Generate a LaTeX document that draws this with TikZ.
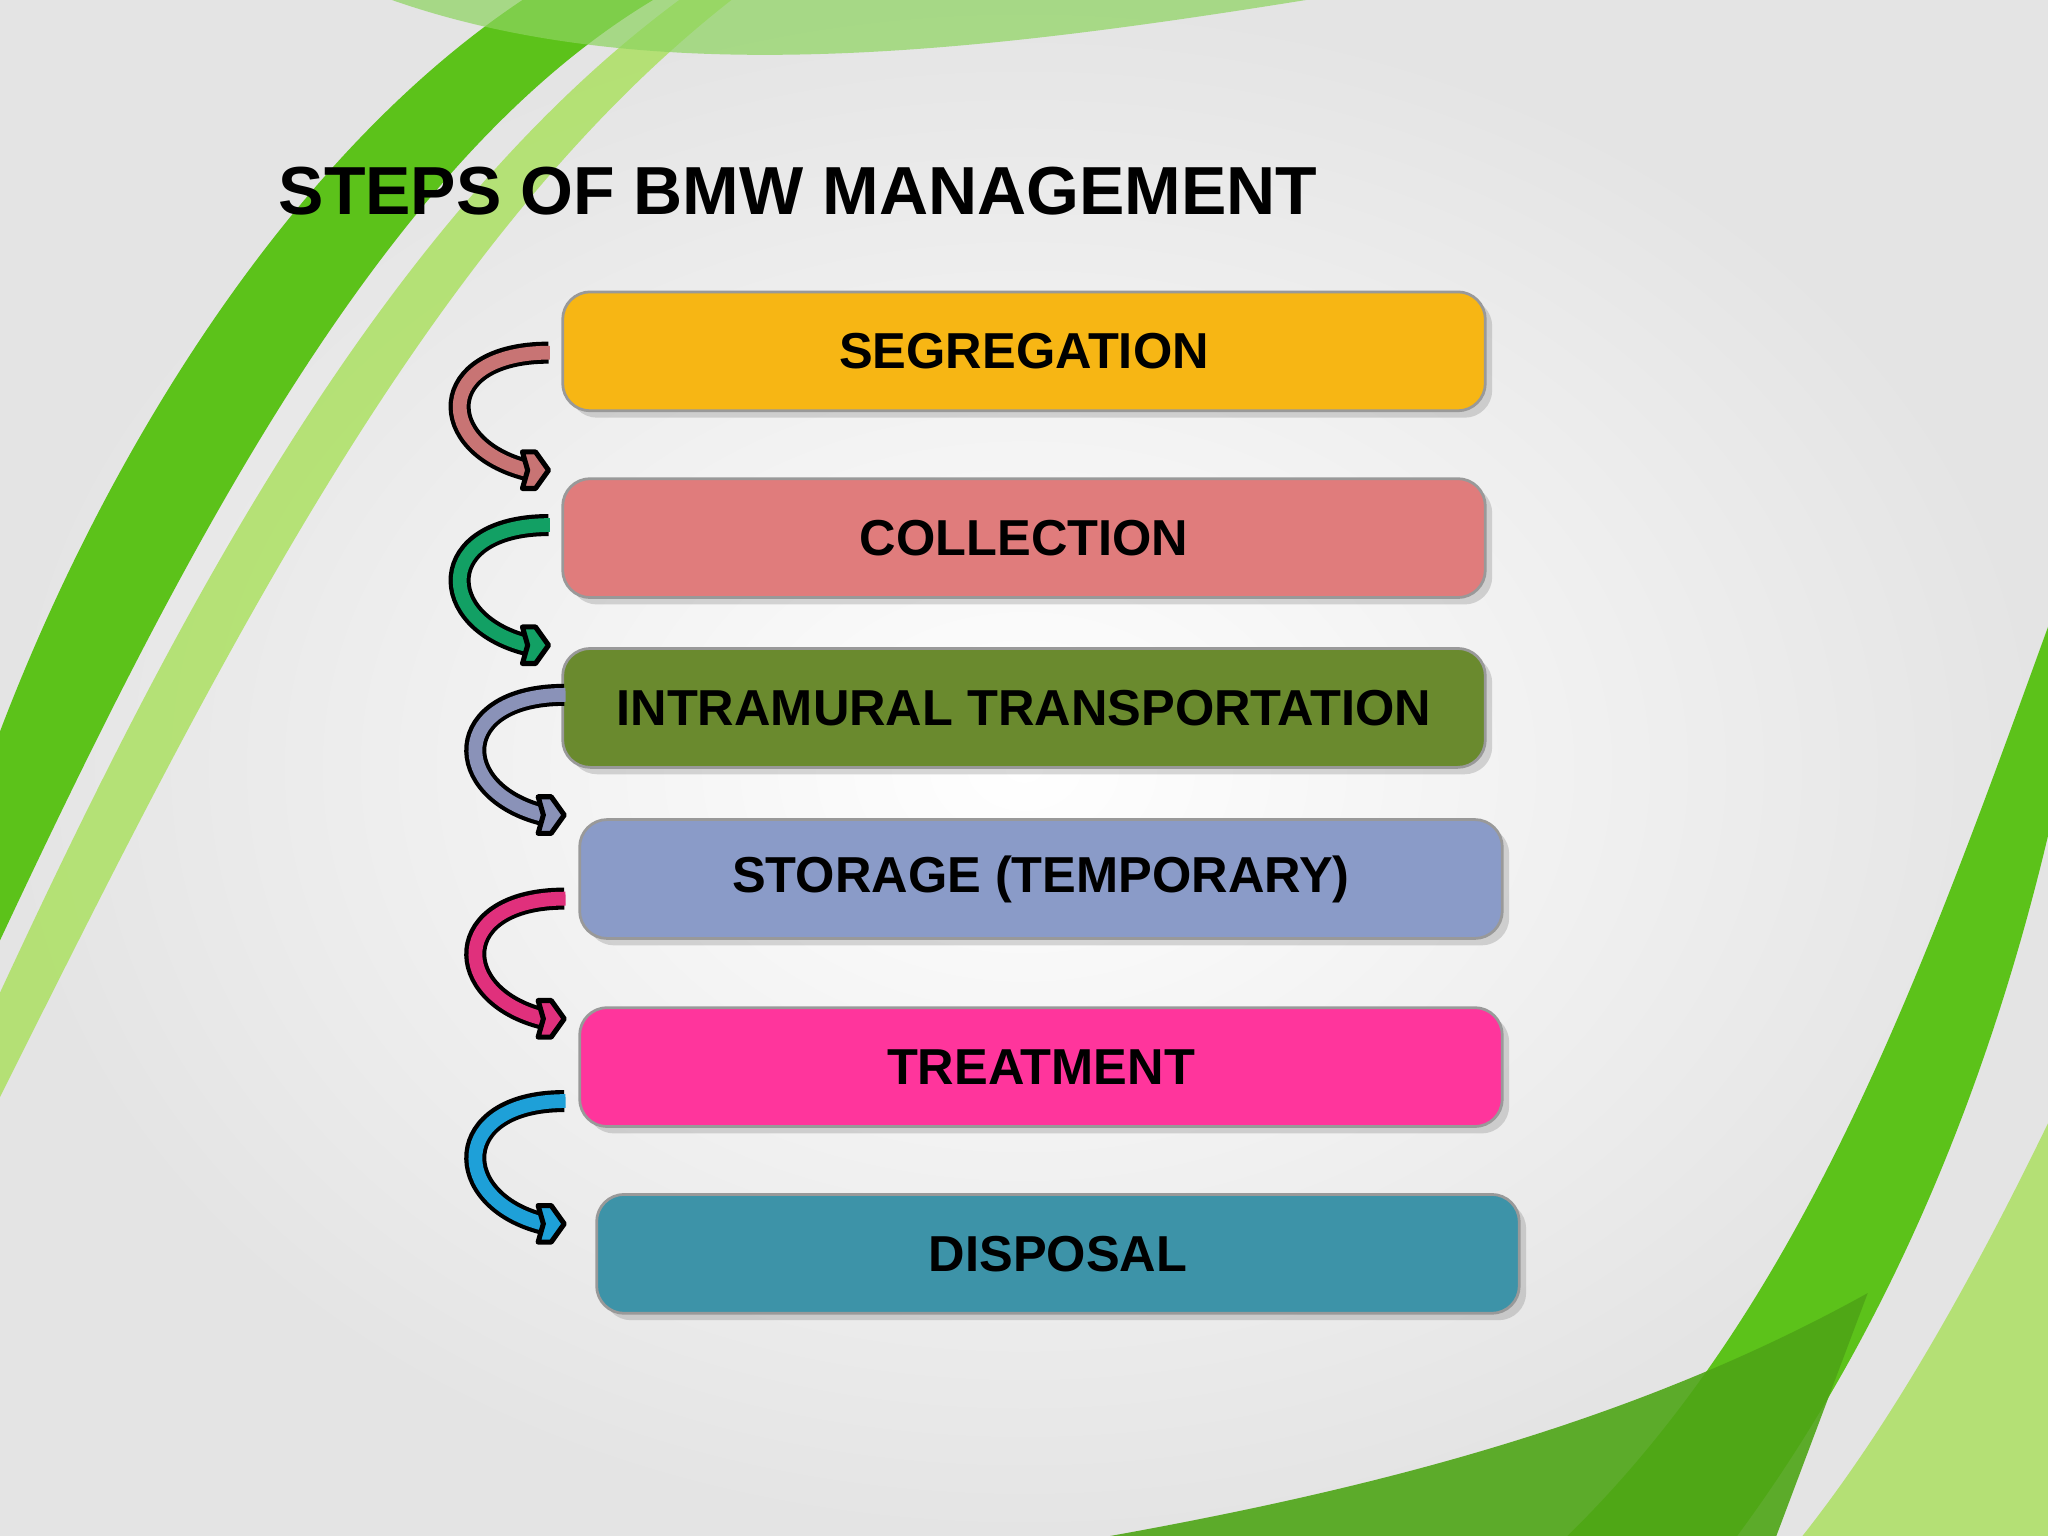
\documentclass[tikz,border=0pt]{standalone}
\usepackage{fontspec}
\setmainfont{Liberation Sans}
\usetikzlibrary{shadows}
\definecolor{bg}{HTML}{E4E4E4}
\definecolor{gA}{HTML}{5CC21A}
\definecolor{gB}{HTML}{A8E05A}
\definecolor{c1}{HTML}{F7B614}
\definecolor{c2}{HTML}{E07C7C}
\definecolor{c3}{HTML}{6A8A2E}
\definecolor{c4}{HTML}{8A9BC8}
\definecolor{c5}{HTML}{FF359C}
\definecolor{c6}{HTML}{3D93A8}
\definecolor{a1}{HTML}{C87474}
\definecolor{a2}{HTML}{12A064}
\definecolor{a3}{HTML}{8A92B8}
\definecolor{a4}{HTML}{E0307C}
\definecolor{a5}{HTML}{1EA0D8}
\tikzset{
  box/.style={rounded corners=6, draw=white!60!black, line width=0.6pt,
    drop shadow={opacity=0.3, shadow xshift=1.5pt, shadow yshift=-1.5pt},
    font=\bfseries\fontsize{11}{13}\selectfont, text=black,
    minimum width=7.06cm, minimum height=0.91cm, inner sep=0pt},
}
\newcommand{\curvarrow}[4]{% x, ytop, ybot, color
  \draw[black,line width=4.8pt] (#1,#2) .. controls (#1-88,#2) and (#1-88,#3-18) .. (#1-16,#3);
  \draw[#4,line width=3pt] (#1+1,#2) .. controls (#1-88,#2) and (#1-88,#3-18) .. (#1-16,#3);
  \filldraw[fill=#4,draw=black,line width=1.1pt,line join=round] (#1-20,#3+14) -- (#1-10,#3+14) -- (#1,#3) -- (#1-10,#3-14) -- (#1-20,#3-14) -- (#1-16,#3) -- cycle;
}
\begin{document}
\begin{tikzpicture}[x=0.01cm,y=-0.01cm]
\useasboundingbox (0,0) rectangle (1568,1176);
\shade[inner color=white, outer color=bg] (0,0) rectangle (1568,1176);
% green swooshes
\fill[gA] (0,720) .. controls (150,400) and (300,120) .. (500,0) -- (400,0) .. controls (220,120) and (80,350) .. (0,560) -- cycle;
\fill[gB,opacity=0.8] (0,840) .. controls (170,500) and (330,180) .. (560,0) -- (520,0) .. controls (290,170) and (130,480) .. (0,760) -- cycle;
\fill[gA!70!white,opacity=0.7] (300,0) .. controls (500,70) and (750,40) .. (1000,0) -- cycle;
\fill[gA] (1568,480) .. controls (1470,750) and (1380,1000) .. (1200,1176) -- (1330,1176) .. controls (1460,1000) and (1530,800) .. (1568,640) -- cycle;
\fill[gB,opacity=0.8] (1568,860) .. controls (1500,1000) and (1440,1100) .. (1380,1176) -- (1568,1176) -- cycle;
\fill[gA!85!black,opacity=0.9] (850,1176) .. controls (1050,1140) and (1250,1090) .. (1430,990) -- (1360,1176) -- cycle;
\node[anchor=west, font=\bfseries\fontsize{14.8}{17}\selectfont] (title) at (201,146) {STEPS OF BMW MANAGEMENT};
\node[box, fill=c1] (b1) at (784,269) {SEGREGATION};
\node[box, fill=c2] (b2) at (784,412) {COLLECTION};
\node[box, fill=c3] (b3) at (784,542) {INTRAMURAL TRANSPORTATION};
\node[box, fill=c4] (b4) at (797,673) {STORAGE (TEMPORARY)};
\node[box, fill=c5] (b5) at (797,817) {TREATMENT};
\node[box, fill=c6] (b6) at (810,960) {DISPOSAL};
\curvarrow{420}{270}{360}{a1}
\curvarrow{420}{402}{494}{a2}
\curvarrow{432}{532}{624}{a3}
\curvarrow{432}{688}{780}{a4}
\curvarrow{432}{843}{937}{a5}
\end{tikzpicture}
\end{document}
